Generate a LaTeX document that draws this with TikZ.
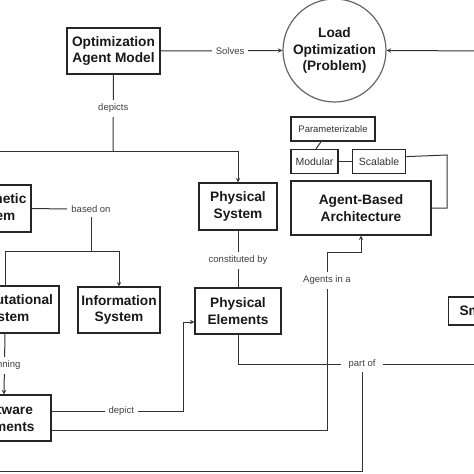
\documentclass[tikz,border=0pt]{standalone}
\usepackage{fontspec}
\setmainfont{Liberation Sans}
\usetikzlibrary{positioning}

\begin{document}
\begin{tikzpicture}[x=1pt, y=-1pt,
    bb/.style={draw=black!85, line width=1.2pt, align=center, inner sep=0pt, minimum height=47pt, text=black!90, font=\fontsize{13.7}{16.5}\selectfont\bfseries},
    sb/.style={draw=black!85, line width=1.6pt, inner sep=0pt, minimum height=24pt, text=black!80, font=\fontsize{10.5}{12}\selectfont},
    lbl/.style={fill=white, inner xsep=4pt, inner ysep=4pt, text=black!75, font=\fontsize{9.5}{11}\selectfont},
    line width=1pt, draw=black!80]
            \useasboundingbox (0,0) rectangle (474,474);
            \clip (0,0) rectangle (474,474);
            \node[bb, minimum width=93pt, minimum height=46pt] (oam) at (113.5,51) {Optimization\\Agent Model};
            \node[bb, circle, draw=black!60, minimum size=103pt] (lop) at (334.5,50.5) {Load\\Optimization\\(Problem)};
            \node[bb, minimum width=80pt] (cyb) at (-9,208.5) {Cybernetic\\System};
            \node[bb, minimum width=78pt] (phys) at (238,206.5) {Physical\\System};
            \node[bb, minimum width=108pt] (comp) at (5,309.5) {Computational\\System};
            \node[bb, minimum width=82pt, minimum height=46pt] (info) at (119,310) {Information\\System};
            \node[bb, minimum width=86pt, minimum height=46pt] (pel) at (238,311) {Physical\\Elements};
            \node[bb, minimum width=94pt, minimum height=46pt] (sw) at (4,418) {Software\\Elements};
            \node[bb, minimum width=140pt, minimum height=54pt] (aba) at (361,208) {Agent-Based\\Architecture};
            \node[sb, minimum width=84pt, font=\fontsize{9.5}{11}\selectfont] (par) at (333,129) {Parameterizable};
            \node[sb, minimum width=47pt, below=7pt of par.south west, anchor=north west] (mod) {Modular};
            \node[sb, minimum width=53pt, right=13pt of mod] (sca) {Scalable};
            \node[bb, minimum height=28pt, anchor=west, inner xsep=11pt] (sm) at (448,311) {Smart Grid};
            \coordinate (rin) at (490,51);
            \coordinate (dep) at (113,151);
            \coordinate (bo) at (91,251);
            \coordinate (low) at (-20,471);
            \draw[->,>=stealth] (oam.east) -- node[lbl, pos=0.57] {Solves} (lop.west);
            \draw[->,>=stealth] (rin) -- (lop.east);
            \draw (oam.south) -- node[lbl, pos=0.44] {depicts} (dep);
            \draw[->,>=stealth] (dep) -| (phys.north);
            \draw[->,>=stealth] (dep) -| (cyb.north);
            \node[lbl] (based) at (91,209) {based on};
            \draw (cyb.east) -- (based.west);
            \draw (based.south) -- (bo);
            \draw (bo) -| (comp.north);
            \draw[->,>=stealth] (bo) -| (info.north);
            \draw[->,>=stealth] (comp.south) -- node[lbl, pos=0.52] {running} (sw.north);
            \draw (phys.south) -- node[lbl, pos=0.52] {constituted by} (pel.north);
            \draw[->,>=stealth] ([yshift=7pt]sw.east) -- node[lbl, pos=0.53] {depict} (183,411) |- ([yshift=-11pt]pel.west);
            \draw[->,>=stealth] ([yshift=-12pt]sw.east) -- (327,430) -- node[lbl, pos=0.84] {Agents in a} (327,252) -| (aba.south);
            \draw ([xshift=-12pt]par.south) -- ([xshift=1.5pt]mod.north);
            \draw (mod) -- (sca);
            \draw ([yshift=5pt]sca.east) -- (447,155) |- (aba.east);
            \node[lbl, inner xsep=7pt, inner ysep=3pt] (partof) at (362,364) {part of};
            \draw (pel.south) |- (partof.west);
            \draw (partof.east) -- (474,364);
            \draw (partof.south) |- (low);
\end{tikzpicture}
\end{document}
